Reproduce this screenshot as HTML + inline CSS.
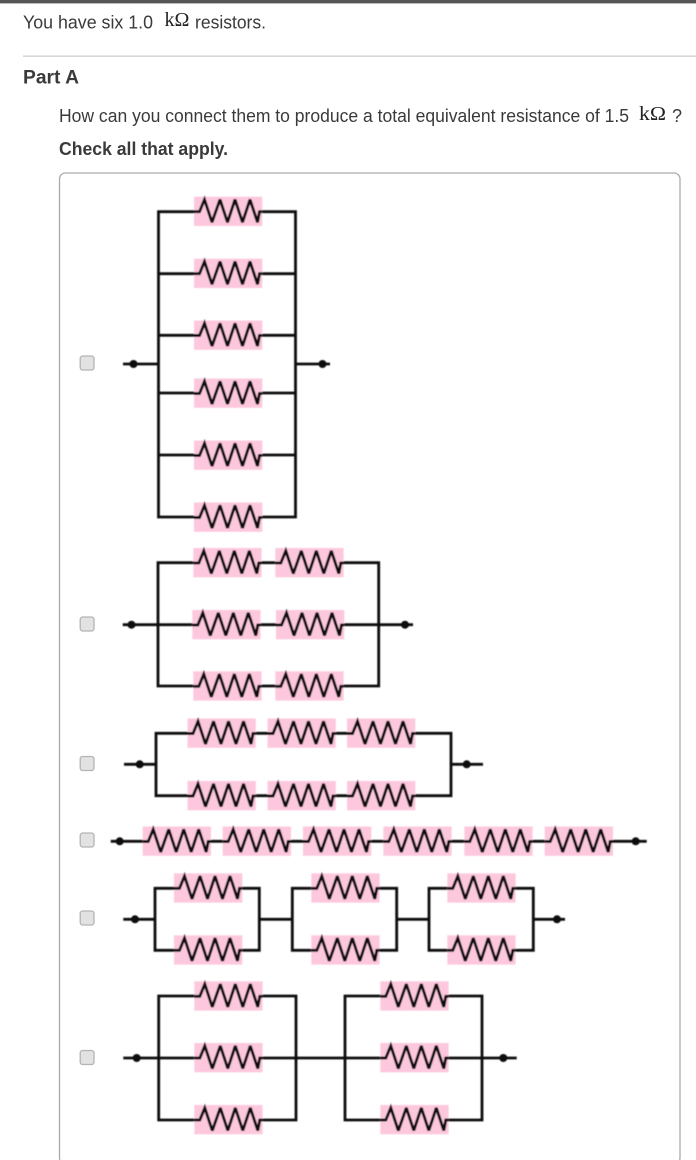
<!DOCTYPE html>
<html>
<head>
<meta charset="utf-8">
<style>
html,body{margin:0;padding:0;background:#fff;width:696px;height:1160px;overflow:hidden}
svg{display:block;position:absolute;left:0;top:0}
text{font-family:"Liberation Sans",sans-serif;fill:#3a3a3a}
.m{font-family:"Liberation Serif",serif;font-size:20px;fill:#222}
.w{fill:none;stroke:#111;stroke-width:2.8;stroke-linejoin:miter}
.cb{fill:#e2e2e2;stroke:#b4b4b4;stroke-width:1.3}
</style>
</head>
<body>
<svg width="696" height="1160" viewBox="0 0 696 1160" xmlns="http://www.w3.org/2000/svg">
<defs>
<g id="r">
<rect x="0" y="-15" width="68.3" height="29.3" fill="#fdc8dd"/>
<path d="M0 0H5.5L10.5-12.2L18 10.6L26-12.2L33.5 10.6L41-12.2L48.5 10.6L56-12.2L63.5 10.6L65.5 0H68.3" fill="none" stroke="#111" stroke-width="2.9" stroke-linejoin="miter" stroke-miterlimit="3"/>
</g>
<filter id="b" x="-2%" y="-2%" width="104%" height="104%"><feGaussianBlur stdDeviation="0.4"/></filter>
</defs>

<!-- Header -->
<rect x="0" y="0" width="696" height="3" fill="#555"/>
<rect x="0" y="3" width="696" height="1" fill="#bbb"/>
<text x="23" y="28.3" font-size="18" textLength="130" lengthAdjust="spacingAndGlyphs">You have six 1.0</text>
<text x="164.5" y="26" class="m" textLength="25" lengthAdjust="spacingAndGlyphs">kΩ</text>
<text x="195" y="28.3" font-size="18" textLength="71" lengthAdjust="spacingAndGlyphs">resistors.</text>
<rect x="23" y="55.5" width="673" height="1.3" fill="#cfcfcf"/>
<text x="23" y="83.5" font-size="19" font-weight="bold" textLength="56" lengthAdjust="spacingAndGlyphs">Part A</text>
<text x="59" y="122" font-size="18" textLength="570" lengthAdjust="spacingAndGlyphs">How can you connect them to produce a total equivalent resistance of 1.5</text>
<text x="639" y="120" class="m" textLength="27" lengthAdjust="spacingAndGlyphs">kΩ</text>
<text x="672" y="122" font-size="18">?</text>
<text x="59" y="155" font-size="18" font-weight="bold" textLength="169" lengthAdjust="spacingAndGlyphs">Check all that apply.</text>

<!-- Frame -->
<rect x="59.5" y="173" width="620.5" height="991" rx="6" ry="6" fill="#fff" stroke="#ababab" stroke-width="1.3"/>

<!-- Checkboxes -->
<rect class="cb" x="80.2" y="356" width="13.8" height="14" rx="2.5"/>
<rect class="cb" x="80.2" y="617" width="13.8" height="14" rx="2.5"/>
<rect class="cb" x="80.2" y="756.5" width="13.8" height="14" rx="2.5"/>
<rect class="cb" x="80.2" y="833" width="13.8" height="14" rx="2.5"/>
<rect class="cb" x="80.2" y="911" width="13.8" height="14" rx="2.5"/>
<rect class="cb" x="80.2" y="1050.5" width="13.8" height="14" rx="2.5"/>

<g filter="url(#b)">
<!-- Circuit 1 -->
<path class="w" d="M158.5 211.7H295.5V517H158.5ZM158.5 273.7H295.5M158.5 335.3H295.5M158.5 393H295.5M158.5 455H295.5M123 364H158.5M295.5 364H330"/>
<circle cx="133.5" cy="364" r="4" fill="#111"/><circle cx="322.5" cy="364" r="4" fill="#111"/>
<use href="#r" x="194" y="211.7"/>
<use href="#r" x="194" y="273.7"/>
<use href="#r" x="194" y="335.5"/>
<use href="#r" x="194" y="393.5"/>
<use href="#r" x="194" y="455.5"/>
<use href="#r" x="194" y="517.5"/>

<!-- Circuit 2 -->
<path class="w" d="M158 562.7H378.7V686H158ZM122.7 624.7H413M261 562.7H276M261 686H276"/>
<circle cx="131.5" cy="624.7" r="4" fill="#111"/><circle cx="405" cy="624.7" r="4" fill="#111"/>
<use href="#r" x="193.3" y="563"/>
<use href="#r" x="275.3" y="563"/>
<use href="#r" x="192.3" y="625"/>
<use href="#r" x="276" y="625"/>
<use href="#r" x="193.3" y="686.3"/>
<use href="#r" x="275.3" y="686.3"/>

<!-- Circuit 3 -->
<path class="w" d="M156 733.3H451V795.7H156ZM124 764.3H156M451 764.3H483"/>
<circle cx="139.7" cy="764.3" r="4" fill="#111"/><circle cx="466.7" cy="764.3" r="4" fill="#111"/>
<use href="#r" x="187.5" y="733.5"/>
<use href="#r" x="267.5" y="733.5"/>
<use href="#r" x="347" y="733.5"/>
<use href="#r" x="187.5" y="796"/>
<use href="#r" x="267.5" y="796"/>
<use href="#r" x="347" y="796"/>

<!-- Circuit 4 -->
<path class="w" d="M110.7 841.3H646.7"/>
<circle cx="119.7" cy="841.3" r="4" fill="#111"/><circle cx="635.7" cy="841.3" r="4" fill="#111"/>
<use href="#r" x="142.7" y="841.5"/>
<use href="#r" x="222.7" y="841.5"/>
<use href="#r" x="303" y="841.5"/>
<use href="#r" x="383.3" y="841.5"/>
<use href="#r" x="464.3" y="841.5"/>
<use href="#r" x="544.7" y="841.5"/>

<!-- Circuit 5 -->
<path class="w" d="M155 888.3H259.3V950.3H155ZM292.3 888.3H396.7V950.3H292.3ZM429 888.3H533.3V950.3H429ZM123.3 919.3H155M259.3 919.3H292.3M396.7 919.3H429M533.3 919.3H565"/>
<circle cx="135" cy="919.3" r="4" fill="#111"/><circle cx="557" cy="919.3" r="4" fill="#111"/>
<use href="#r" x="174" y="888.3"/>
<use href="#r" x="311.3" y="888.3"/>
<use href="#r" x="447.3" y="888.3"/>
<use href="#r" x="174" y="950.3"/>
<use href="#r" x="311.3" y="950.3"/>
<use href="#r" x="447.3" y="950.3"/>

<!-- Circuit 6 -->
<path class="w" d="M158.7 996H296V1120H158.7ZM345 996H482V1120H345ZM123.3 1058H516.7"/>
<circle cx="136.7" cy="1058" r="4" fill="#111"/><circle cx="503.3" cy="1058" r="4" fill="#111"/>
<use href="#r" x="194.3" y="996.3"/>
<use href="#r" x="194.3" y="1058"/>
<use href="#r" x="194.3" y="1120"/>
<use href="#r" x="380.3" y="996.3"/>
<use href="#r" x="380.3" y="1058"/>
<use href="#r" x="380.3" y="1120"/>
</g>
</svg>
</body>
</html>
